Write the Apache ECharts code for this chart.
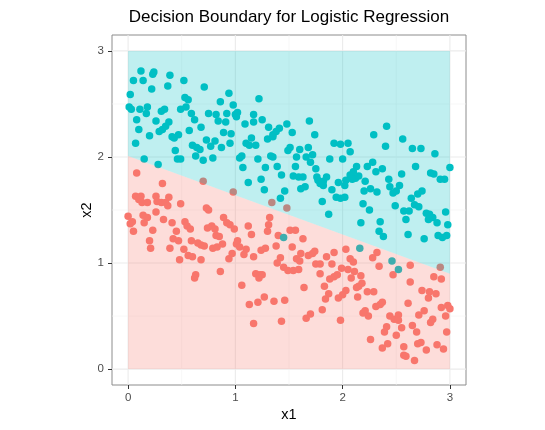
<!DOCTYPE html>
<html>
<head>
<meta charset="utf-8">
<script src="https://cdn.jsdelivr.net/npm/echarts@6/dist/echarts.min.js"></script>
<style>html,body{margin:0;padding:0;background:#fff}#c{width:545px;height:430px}</style>
</head>
<body>
<div id="c"></div>
<script>
// class 0 (red) observations: [x1, x2]
const class0 = [
[0.08,1.85],[0.32,1.75],[0.07,1.63],[0.12,1.63],[0.10,1.60],[0.13,1.57],[0.18,1.57],[0.26,1.63],[0.27,1.58],[0.31,1.57],
[0.35,1.57],[0.38,1.62],[0.49,1.56],[0.73,1.52],[0.75,1.50],[0.37,1.54],[0.26,1.48],[0.00,1.44],[0.04,1.39],[0.02,1.37],
[0.14,1.45],[0.18,1.43],[0.15,1.38],[0.33,1.41],[0.41,1.38],[0.53,1.39],[0.55,1.35],[0.58,1.32],[0.89,1.43],[0.92,1.38],
[0.95,1.36],[0.74,1.33],[0.78,1.35],[0.81,1.32],[0.05,1.30],[0.23,1.31],[0.45,1.30],[0.82,1.26],[0.85,1.25],[0.42,1.23],
[0.47,1.21],[0.59,1.21],[0.65,1.19],[0.68,1.17],[0.71,1.16],[0.20,1.21],[0.21,1.14],[0.39,1.14],[0.52,1.13],[0.79,1.14],
[0.83,1.15],[0.88,1.18],[0.56,1.07],[0.60,1.06],[0.48,1.03],[0.68,1.03],[0.94,1.04],[0.97,1.09],[0.86,0.92],[0.63,0.89],
[0.62,0.86],[0.99,1.32],[1.12,1.35],[1.15,1.27],[1.32,1.43],[1.31,1.36],[1.30,1.30],[1.51,1.31],[1.56,1.31],[1.63,1.23],
[1.40,1.26],[1.02,1.21],[1.01,1.18],[1.04,1.15],[1.10,1.13],[1.08,1.08],[1.17,1.06],[1.24,1.12],[1.28,1.14],[1.53,1.15],
[1.38,1.16],[1.42,1.05],[1.39,1.00],[1.45,0.96],[1.49,0.93],[1.54,0.93],[1.59,0.94],[1.57,1.04],[1.60,1.02],[1.61,1.09],
[1.68,1.07],[1.72,1.09],[1.74,1.11],[1.75,0.99],[1.79,0.99],[1.85,1.06],[1.92,1.10],[1.90,0.99],[1.99,0.95],[1.79,0.90],
[1.19,0.90],[1.23,0.89],[1.22,0.86],[1.25,0.89],[1.88,0.85],[1.92,0.87],[1.95,0.89],[1.06,0.79],[1.64,0.77],[1.83,0.78],
[1.87,0.71],[1.84,0.66],[1.96,0.67],[2.00,0.70],[1.27,0.68],[1.21,0.63],[1.13,0.61],[1.36,0.64],[1.46,0.65],[1.70,0.52],
[1.66,0.48],[1.81,0.56],[1.17,0.43],[1.43,0.45],[1.98,0.46],[2.03,1.13],[2.32,1.10],[2.28,1.05],[2.07,1.04],[2.10,1.01],
[2.34,0.97],[2.63,0.98],[2.05,0.94],[2.11,0.92],[2.47,0.89],[2.85,0.87],[2.17,0.88],[2.08,0.86],[2.63,0.82],[2.92,0.85],
[2.15,0.78],[2.18,0.81],[2.13,0.77],[2.74,0.74],[2.81,0.73],[2.87,0.71],[2.80,0.67],[2.23,0.73],[2.29,0.73],[2.03,0.74],
[2.14,0.68],[2.61,0.62],[2.31,0.59],[2.35,0.61],[2.37,0.63],[2.92,0.58],[2.98,0.60],[3.00,0.57],[2.76,0.55],[2.71,0.51],
[2.96,0.50],[2.21,0.55],[2.24,0.50],[2.19,0.53],[2.44,0.50],[2.48,0.47],[2.52,0.51],[2.52,0.46],[2.84,0.47],[2.82,0.44],
[2.65,0.41],[2.41,0.40],[2.39,0.35],[2.55,0.39],[2.69,0.35],[2.97,0.35],[2.50,0.32],[2.26,0.28],[2.73,0.25],[2.70,0.24],
[2.88,0.23],[2.94,0.19],[2.42,0.24],[2.37,0.20],[2.57,0.21],[2.78,0.18],[2.57,0.13],[2.59,0.12],[2.67,0.08],
[0.70,1.77],[0.98,1.67],[1.34,1.57],[1.48,1.52],[2.91,0.96]
];
// class 1 (cyan) observations: [x1, x2]
const class1 = [
[0.12,2.81],[0.05,2.72],[0.14,2.72],[0.23,2.78],[0.24,2.80],[0.39,2.77],[0.52,2.72],[0.37,2.67],[0.22,2.64],[0.71,2.66],
[0.02,2.59],[0.53,2.56],[0.56,2.54],[0.94,2.60],[0.86,2.52],[0.01,2.47],[0.03,2.45],[0.11,2.45],[0.18,2.47],[0.17,2.41],
[0.31,2.43],[0.34,2.45],[0.49,2.45],[0.54,2.47],[0.59,2.41],[0.75,2.41],[0.82,2.40],[0.84,2.34],[0.92,2.41],[0.98,2.49],
[0.08,2.35],[0.26,2.34],[0.38,2.33],[0.62,2.35],[0.91,2.33],[0.10,2.26],[0.29,2.24],[0.32,2.26],[0.35,2.29],[0.68,2.28],
[0.57,2.25],[0.20,2.20],[0.41,2.19],[0.43,2.18],[0.47,2.21],[0.89,2.23],[0.96,2.22],[0.07,2.13],[0.44,2.06],[0.60,2.11],
[0.64,2.09],[0.67,2.07],[0.73,2.16],[0.77,2.10],[0.81,2.15],[0.87,2.09],[0.95,2.13],[0.15,1.98],[0.46,1.98],[0.49,1.98],
[0.63,2.01],[0.70,1.97],[0.79,1.99],[0.28,1.93],
[1.22,2.55],[1.00,2.40],[1.02,2.42],[1.01,2.38],[1.17,2.40],[1.09,2.31],[1.17,2.33],[1.25,2.35],[1.31,2.28],[1.48,2.31],
[1.69,2.34],[1.53,2.23],[1.74,2.21],[1.35,2.21],[1.38,2.24],[1.41,2.27],[1.30,2.17],[1.35,2.19],[1.15,2.18],[1.10,2.13],
[1.13,2.11],[1.19,2.11],[1.92,2.13],[1.98,2.12],[1.49,2.06],[1.51,2.09],[1.60,2.07],[1.68,2.09],[1.06,2.01],[1.04,1.99],
[1.21,1.98],[1.33,2.01],[1.35,2.00],[1.57,2.00],[1.66,2.00],[1.72,2.02],[1.88,1.98],[2.00,1.98],[1.07,1.90],[1.28,1.90],
[1.39,1.91],[1.56,1.91],[1.70,1.95],[1.75,1.89],[1.43,1.83],[1.54,1.82],[1.59,1.81],[1.63,1.81],[1.76,1.81],[1.77,1.78],
[1.79,1.75],[1.82,1.73],[1.85,1.81],[1.82,1.77],[1.12,1.76],[1.24,1.79],[1.96,1.76],[2.03,1.78],[1.65,1.72],[1.61,1.70],
[1.27,1.69],[1.46,1.68],[1.90,1.69],[1.94,1.62],[1.98,1.61],[2.02,1.62],[1.42,1.61],[1.81,1.58],[1.87,1.46],
[2.05,2.13],[2.07,2.05],[2.29,2.21],[2.41,2.29],[2.40,2.10],[2.56,2.17],[2.65,2.08],[2.73,2.08],[2.86,2.03],[2.13,1.91],
[2.23,1.91],[2.28,1.95],[2.31,1.86],[2.37,1.89],[2.68,1.91],[3.00,1.90],[2.82,1.85],[2.85,1.84],[2.55,1.84],[2.07,1.83],
[2.10,1.86],[2.12,1.80],[2.09,1.79],[2.15,1.82],[2.02,1.73],[2.21,1.77],[2.43,1.79],[2.91,1.79],[2.95,1.79],[2.44,1.72],
[2.53,1.73],[2.26,1.70],[2.32,1.67],[2.20,1.68],[2.50,1.68],[2.47,1.66],[2.74,1.68],[2.70,1.65],[2.64,1.61],[2.19,1.56],
[2.49,1.54],[2.67,1.55],[2.71,1.53],[2.25,1.50],[2.57,1.49],[2.62,1.49],[2.78,1.47],[2.81,1.46],[2.96,1.48],[2.80,1.41],
[2.84,1.43],[2.88,1.38],[2.98,1.36],[2.59,1.41],[2.17,1.38],[2.35,1.39],[2.34,1.30],[2.38,1.25],[2.61,1.27],[2.76,1.23],
[2.89,1.26],[2.93,1.24],[2.97,1.26],
[1.45,1.24],[2.16,1.14],[2.46,1.02],[2.52,0.94]
];
// decision boundary (x1 -> x2) and prediction-grid extent
const boundaryX = [0, 3];
const boundaryY = [2.01, 0.90];
const gridRange = [0, 3];
const axisRange = [-0.15, 3.15];
const majorTicks = [0, 1, 2, 3];
const minorTicks = [0.5, 1.5, 2.5];
const classColors = ['#F8766D', '#00BFC4'];

const chart = echarts.init(document.getElementById('c'), null, {renderer: 'canvas'});

const gridLineData = [];
majorTicks.forEach(v => { gridLineData.push([v, 0, 1]); gridLineData.push([v, 1, 1]); });
minorTicks.forEach(v => { gridLineData.push([v, 0, 0]); gridLineData.push([v, 1, 0]); });

function renderGridLine(params, api) {
  const cs = params.coordSys;
  const v = api.value(0), dir = api.value(1), major = api.value(2);
  let shape;
  if (dir === 0) {
    const p = api.coord([v, 0]);
    shape = {x1: p[0], y1: cs.y, x2: p[0], y2: cs.y + cs.height};
  } else {
    const p = api.coord([0, v]);
    shape = {x1: cs.x, y1: p[1], x2: cs.x + cs.width, y2: p[1]};
  }
  return {type: 'line', shape: shape, style: {stroke: major ? '#EBEBEB' : '#F2F2F2', lineWidth: major ? 1.1 : 0.6}};
}

function renderRegion(params, api) {
  const cls = api.value(0);
  const lo = gridRange[0], hi = gridRange[1];
  let pts;
  if (cls === 0) {
    pts = [[lo, lo], [hi, lo], [boundaryX[1], boundaryY[1]], [boundaryX[0], boundaryY[0]]];
  } else {
    pts = [[boundaryX[0], boundaryY[0]], [boundaryX[1], boundaryY[1]], [hi, hi], [lo, hi]];
  }
  return {
    type: 'polygon',
    shape: {points: pts.map(p => api.coord(p))},
    style: {fill: classColors[cls], opacity: 0.25}
  };
}

const font = 'Liberation Sans, Arial, Helvetica, sans-serif';

chart.setOption({
  animation: false,
  backgroundColor: '#ffffff',
  title: {
    text: 'Decision Boundary for Logistic Regression',
    left: 289, top: 9, padding: 0, textAlign: 'center',
    textStyle: {fontSize: 17, fontWeight: 'normal', color: '#000', fontFamily: font}
  },
  grid: {
    left: 112, top: 35, width: 354, height: 350,
    show: true, borderColor: '#8c8c8c', borderWidth: 1, backgroundColor: '#ffffff'
  },
  xAxis: {
    type: 'value', min: axisRange[0], max: axisRange[1],
    axisLine: {show: false, onZero: false},
    axisTick: {show: true, customValues: majorTicks, length: 4, lineStyle: {color: '#333333', width: 1}},
    axisLabel: {customValues: majorTicks, color: '#4D4D4D', fontSize: 11.5, margin: 7, fontFamily: font},
    splitLine: {show: false},
    name: 'x1', nameLocation: 'middle', nameGap: 22, nameMoveOverlap: false,
    nameTextStyle: {fontSize: 14.5, color: '#000', fontFamily: font}
  },
  yAxis: {
    type: 'value', min: axisRange[0], max: axisRange[1],
    axisLine: {show: false, onZero: false},
    axisTick: {show: true, customValues: majorTicks, length: 4, lineStyle: {color: '#333333', width: 1}},
    axisLabel: {customValues: majorTicks, color: '#4D4D4D', fontSize: 11.5, margin: 8, fontFamily: font},
    splitLine: {show: false},
    name: 'x2', nameLocation: 'middle', nameGap: 18, nameMoveOverlap: false,
    nameTextStyle: {fontSize: 14.5, color: '#000', fontFamily: font}
  },
  series: [
    {type: 'custom', renderItem: renderGridLine, data: gridLineData, z: 1, silent: true,
     encode: {x: -1, y: -1}},
    {type: 'scatter', data: class0, symbol: 'circle', symbolSize: 7.5, z: 2,
     itemStyle: {color: classColors[0], opacity: 1}},
    {type: 'scatter', data: class1, symbol: 'circle', symbolSize: 7.5, z: 2,
     itemStyle: {color: classColors[1], opacity: 1}},
    {type: 'custom', renderItem: renderRegion, data: [[0], [1]], z: 3, silent: true,
     encode: {x: -1, y: -1}}
  ]
});
</script>
</body>
</html>
